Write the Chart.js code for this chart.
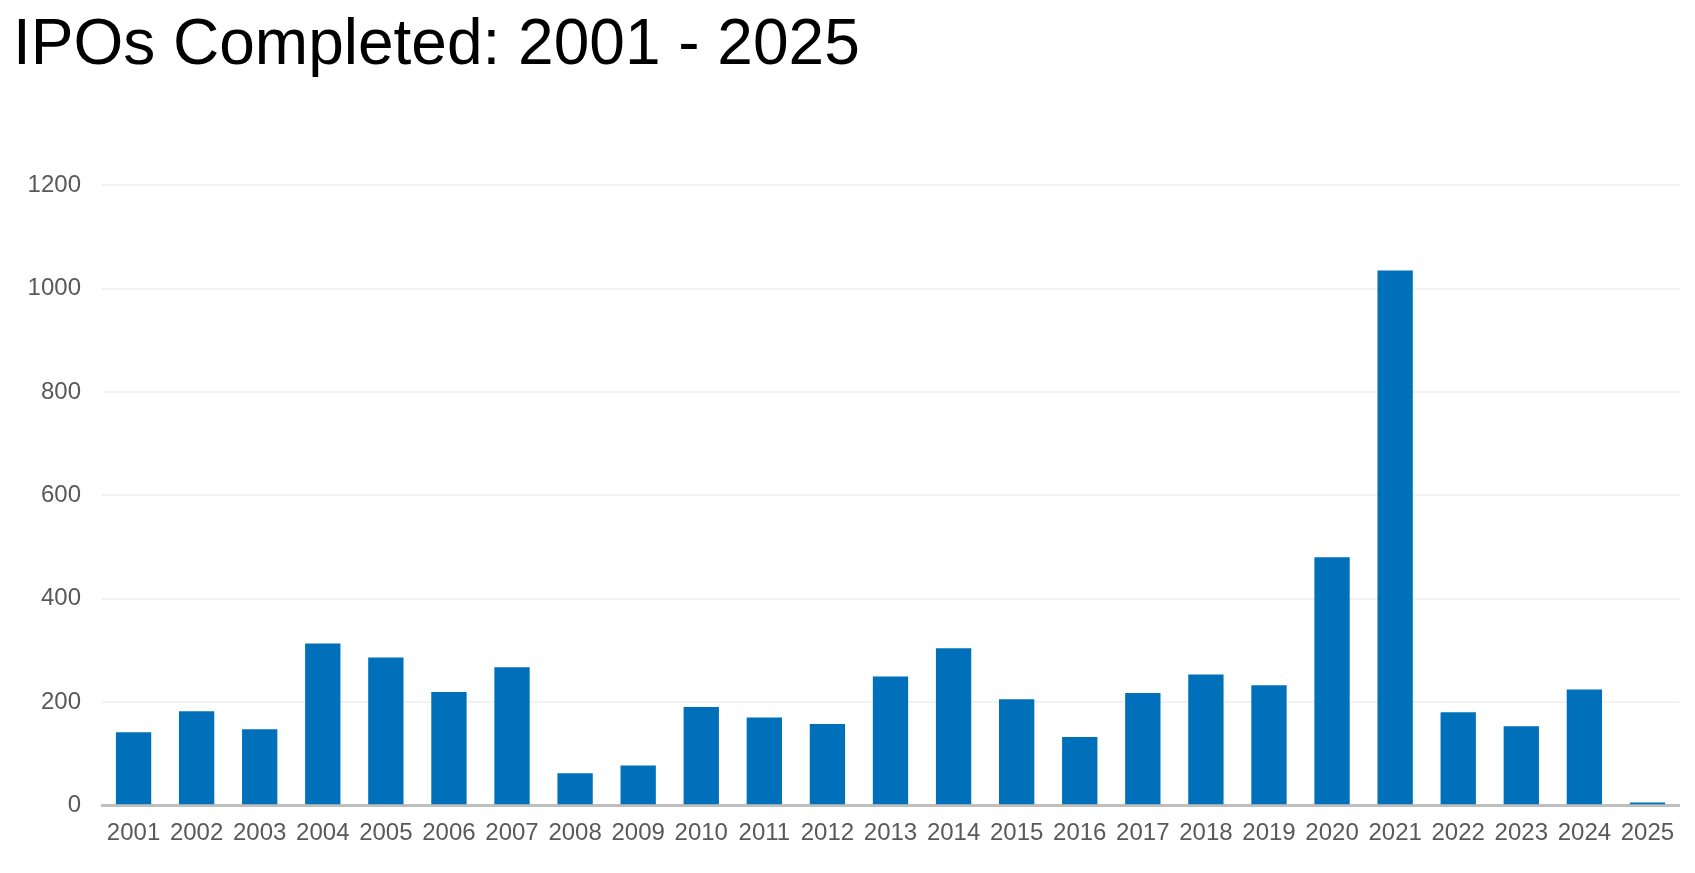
<!DOCTYPE html>
<html>
<head>
<meta charset="utf-8">
<title>IPOs Completed: 2001 - 2025</title>
<script src="https://cdn.jsdelivr.net/npm/chart.js@4.4.1/dist/chart.umd.min.js"></script>
<style>
  html, body { margin: 0; padding: 0; background: #fff; }
  #wrap { width: 1695px; height: 873px; }
</style>
</head>
<body>
<div id="wrap"><canvas id="ipoChart" width="1695" height="873"></canvas></div>
<script>
// IPO counts per year
const years = ['2001', '2002', '2003', '2004', '2005', '2006', '2007', '2008', '2009', '2010',
               '2011', '2012', '2013', '2014', '2015', '2016', '2017', '2018', '2019', '2020',
               '2021', '2022', '2023', '2024', '2025'];
const ipoCounts = [141, 182, 147, 313, 286, 219, 267, 62, 77, 190,
                   170, 157, 249, 304, 205, 132, 217, 253, 232, 480,
                   1035, 180, 153, 224, 5];
const yTicks = [0, 200, 400, 600, 800, 1000, 1200];

const FONT = "'Liberation Sans', Arial, Helvetica, sans-serif";

const ctx = document.getElementById('ipoChart').getContext('2d');
new Chart(ctx, {
    type: 'bar',
    data: {
        labels: years,
        datasets: [{
            label: 'IPOs',
            data: ipoCounts,
            backgroundColor: '#0070BA',
            borderWidth: 0,
            categoryPercentage: 1.0,
            barPercentage: 0.56
        }]
    },
    options: {
        responsive: false,
        animation: false,
        devicePixelRatio: 1,
        layout: {
            padding: { top: 0, left: 13, right: 16, bottom: 11 }
        },
        plugins: {
            legend: { display: false },
            tooltip: { enabled: false },
            title: {
                display: true,
                text: 'IPOs Completed: 2001 - 2025',
                align: 'start',
                color: '#000000',
                font: { family: FONT, size: 64, weight: 'normal', lineHeight: 1.2 },
                padding: { top: 8, bottom: 100.5 }
            }
        },
        scales: {
            x: {
                grid: { display: false, drawTicks: false },
                border: { display: true, color: '#BFBFBF', width: 3 },
                ticks: {
                    color: '#595959',
                    font: { family: FONT, size: 24 },
                    padding: 14,
                    maxRotation: 0,
                    autoSkip: false
                }
            },
            y: {
                min: yTicks[0],
                max: yTicks[yTicks.length - 1],
                afterBuildTicks: (scale) => {
                    scale.ticks = yTicks.map(v => ({ value: v }));
                },
                afterFit: (scale) => {
                    scale.width = 89;
                },
                grid: { color: '#F2F2F2', lineWidth: 2, drawTicks: false },
                border: { display: false },
                ticks: {
                    color: '#595959',
                    font: { family: FONT, size: 24 },
                    padding: 21,
                    callback: (value) => String(value)
                }
            }
        }
    }
});
</script>
</body>
</html>
